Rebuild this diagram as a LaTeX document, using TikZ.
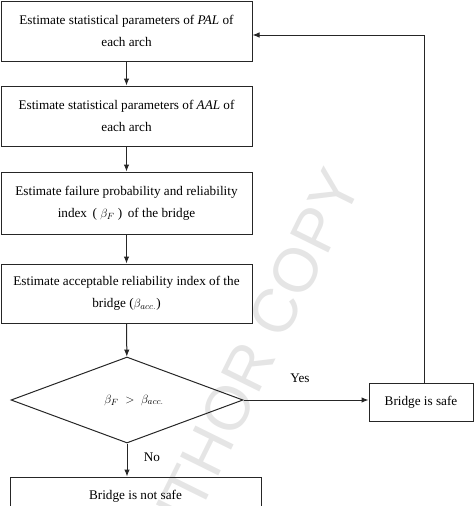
\documentclass[tikz,border=0pt]{standalone}
\usepackage{fontspec}
\setmainfont{Liberation Serif}
\newfontfamily\wmfont{Liberation Sans}
\usetikzlibrary{shapes.geometric,arrows.meta}
\begin{document}
\begin{tikzpicture}[x=1pt,y=-1pt,
  box/.style={draw=black!85,line width=1pt,inner sep=0pt,align=center,font=\fontsize{13.2}{22}\selectfont},
  arr/.style={draw=black!85,line width=1pt,-{Latex[length=7pt,width=5.5pt]}},
  lbl/.style={font=\fontsize{13.2}{15}\selectfont}]
\useasboundingbox (0,0) rectangle (474,506);
\node[text=black!10,rotate=63.7,font=\wmfont\fontsize{62}{62}\selectfont] (wm) at (243,378) {AUTHOR COPY};
\node[box,minimum width=251pt,minimum height=60pt] (b1) at (126.5,31) {Estimate statistical parameters of \textit{PAL} of\\each arch};
\node[box,minimum width=251pt,minimum height=60pt] (b2) at (126.5,116) {Estimate statistical parameters of \textit{AAL} of\\each arch};
\node[box,minimum width=251pt,minimum height=62pt] (b3) at (126.5,203) {Estimate failure probability and reliability\\index \,( $\beta_F$ )\, of the bridge};
\node[box,minimum width=251pt,minimum height=59pt] (b4) at (126.5,293.5) {Estimate acceptable reliability index of the\\bridge ($\beta_{acc.}$)};
\node[box,shape=diamond,minimum width=232pt,minimum height=86pt] (d) at (127,400) {\hspace{14pt}$\beta_F\ >\ \beta_{acc.}$};
\node[box,minimum width=104pt,minimum height=38pt] (safe) at (421,402) {Bridge is safe};
\node[box,minimum width=251pt,minimum height=38pt] (ns) at (135.5,496) {Bridge is not safe};
\node[lbl] (yes) at (300,378) {Yes};
\node[lbl] (no) at (152,457) {No};
\coordinate (lp) at (424,35);
\draw[arr] (b1) -- (b2);
\draw[arr] (b2) -- (b3);
\draw[arr] (b3) -- (b4);
\draw[arr] (b4) -- (d);
\draw[arr] (d.east) -- (d.east -| safe.west);
\draw[arr] (d.south) -- (d.south |- ns.north);
\draw[arr] (safe.north -| lp) -- (lp) -- (lp -| b1.east);
\end{tikzpicture}
\end{document}
